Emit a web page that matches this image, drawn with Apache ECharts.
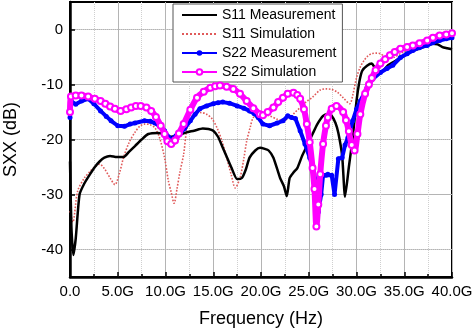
<!DOCTYPE html>
<html>
<head>
<meta charset="utf-8">
<script src="https://cdn.jsdelivr.net/npm/echarts@6/dist/echarts.min.js"></script>
<style>
html,body{margin:0;padding:0;background:#fff;}
#chart{width:474px;height:332px;}
</style>
</head>
<body>
<div id="chart"></div>
<script>
// Frequency in GHz, values in dB
var seriesNames = ['S11 Measurement', 'S11 Simulation', 'S22 Measurement', 'S22 Simulation'];
var xTicks = [0, 5, 10, 15, 20, 25, 30, 35, 40];
var yTicks = [-40, -30, -20, -10, 0];

var s11Meas = [[0.0,-24],[0.15,-36],[0.35,-41],[0.6,-38],[1.0,-30],[1.5,-28],[2.1,-26.3],[2.6,-25],[3.1,-24],[3.6,-23.3],[4.2,-23],[4.9,-23.2],[5.6,-23.2],[6.2,-22.2],[6.8,-21.2],[7.5,-20],[8.2,-19],[9.2,-18.8],[9.8,-19],[10.5,-19.5],[11.3,-19.2],[12.2,-18.7],[13.0,-18.4],[13.9,-18],[14.5,-18.1],[15.0,-18.4],[15.5,-19.5],[16.0,-21.5],[16.5,-23.5],[16.9,-25.1],[17.5,-27.2],[18.0,-27],[18.4,-25.5],[18.8,-23.3],[19.4,-22],[19.9,-21.5],[20.4,-21.7],[20.8,-22],[21.3,-23.3],[22.0,-27],[22.4,-28.5],[22.7,-30.3],[23.0,-27],[23.4,-26],[23.8,-25.2],[24.3,-23],[24.8,-21.2],[25.4,-19],[25.9,-17.2],[26.5,-15.7],[27.0,-15.4],[27.4,-15.7],[27.8,-17],[28.1,-18.8],[28.5,-23],[28.8,-30.4],[29.2,-25],[29.6,-19.7],[30.0,-13],[30.3,-9.5],[30.6,-7.5],[31.1,-6.6],[31.6,-6.2],[31.9,-6.9],[32.3,-7.8],[32.8,-7.5],[33.3,-6.5],[34.0,-5.8],[34.6,-5.1],[35.5,-4.2],[36.5,-3.5],[37.3,-3],[38.0,-2.6],[38.5,-2.7],[39.0,-3.2],[39.5,-3.4],[40.0,-3.6]];

var s11Sim = [[0.0,-33],[0.3,-35],[0.8,-29.4],[1.5,-27],[2.1,-25.8],[2.6,-25],[3.1,-24.5],[3.6,-25.3],[4.2,-27],[4.7,-28.2],[5.2,-26],[5.6,-23.3],[6.2,-20.5],[6.8,-18.7],[7.3,-17.6],[7.8,-17.2],[8.4,-17.3],[8.9,-17.9],[9.4,-19.8],[9.9,-23.3],[10.3,-27.5],[10.6,-29.6],[10.9,-31.6],[11.2,-29],[11.5,-26],[11.9,-22.7],[12.2,-18.5],[12.6,-16.2],[13.0,-15.4],[13.7,-15.1],[14.3,-15.4],[14.9,-16.3],[15.4,-17.9],[15.9,-20.2],[16.4,-23.3],[16.9,-26.5],[17.3,-28.8],[17.8,-27],[18.2,-23.5],[18.5,-20.3],[18.9,-17.6],[19.2,-16],[19.9,-15.3],[20.5,-15.5],[20.9,-15.7],[21.7,-16.3],[22.4,-16.5],[23.0,-16],[23.6,-15],[24.1,-14.2],[24.7,-13.2],[25.4,-12.3],[26.2,-11],[26.8,-10.8],[27.4,-10.9],[28.0,-11.4],[28.6,-12.4],[29.3,-13.5],[29.6,-12],[30.0,-8.8],[30.4,-6.8],[30.8,-5.6],[31.2,-4.8],[31.6,-4.4],[32.1,-4.3],[32.5,-4.4],[33.0,-5],[33.5,-5.2],[34.0,-5],[34.8,-4.2],[35.6,-3.6],[36.5,-3.1],[37.4,-2.6],[38.3,-2.1],[39.2,-1.7],[40.0,-1.4]];

var s22Meas = [[0.0,-16],[0.1,-13],[0.6,-13.6],[1.2,-13],[1.9,-12.6],[2.5,-13.5],[3.2,-14.8],[3.8,-15.8],[4.3,-16.6],[5.0,-17.5],[5.7,-17.6],[6.3,-17.2],[6.8,-17],[7.8,-16.6],[8.4,-16.7],[8.9,-17],[9.4,-17.6],[9.9,-18.4],[10.3,-19.5],[10.6,-20],[11.1,-19.3],[11.5,-19],[12.0,-18],[12.6,-16.6],[13.1,-15.4],[13.6,-14.4],[14.3,-13.9],[15.0,-13.5],[15.5,-13.3],[16.0,-13.2],[16.7,-13.4],[17.5,-13.9],[18.2,-14.3],[18.8,-14.8],[19.3,-15.3],[19.7,-16],[20.2,-17.2],[20.9,-17.5],[21.7,-17],[22.3,-16.6],[22.8,-15.7],[23.2,-16],[23.6,-16.2],[24.1,-18.4],[24.6,-20.8],[25.1,-23.3],[25.5,-25.5],[25.7,-27.5],[26.0,-33.2],[26.3,-30],[26.5,-26.5],[26.8,-26.5],[27.0,-26.3],[27.4,-26.5],[27.7,-30],[28.1,-23.5],[28.5,-23.3],[28.8,-21],[29.1,-19.7],[29.6,-16.6],[30.0,-14.5],[30.4,-13],[31.1,-10.6],[31.7,-9],[32.5,-7.8],[33.2,-7.1],[33.8,-6.5],[34.6,-5.1],[35.3,-4.4],[35.9,-3.8],[36.6,-3.3],[37.4,-2.9],[38.0,-2.4],[38.7,-2],[39.4,-1.7],[40.0,-1.5]];

var s22Sim = [[0.0,-15],[0.1,-12.2],[0.6,-12],[1.2,-12],[1.9,-12.2],[2.6,-12.6],[3.2,-13],[3.7,-13.5],[4.2,-14],[4.7,-14.4],[5.3,-14.8],[5.9,-14.5],[6.4,-14.2],[6.9,-13.9],[7.4,-13.9],[8.0,-14.2],[8.5,-14.8],[9.0,-15.9],[9.5,-17.5],[9.9,-19],[10.2,-20.3],[10.6,-20.8],[11.0,-20.2],[11.4,-18.9],[11.9,-17.2],[12.6,-14.6],[13.3,-12.4],[14.0,-11.3],[14.7,-10.6],[15.2,-10.3],[15.7,-10.2],[16.4,-10.4],[17.1,-10.8],[17.8,-11.7],[18.5,-13],[19.2,-14.3],[19.9,-15.4],[20.2,-15.6],[20.7,-15],[21.3,-14.2],[21.8,-13.2],[22.3,-12.4],[22.8,-11.7],[23.4,-11.5],[23.8,-11.9],[24.1,-12.6],[24.5,-14.5],[24.8,-17.2],[25.1,-20.5],[25.4,-25.2],[25.6,-29],[25.8,-35.8],[26.0,-31.8],[26.2,-26.3],[26.5,-20.8],[26.8,-17.5],[27.0,-16],[27.4,-14.4],[27.9,-13.9],[28.6,-15],[28.9,-16.5],[29.2,-18.5],[29.5,-21],[29.8,-22],[30.1,-19],[30.4,-15.4],[30.9,-11.7],[31.3,-10],[31.6,-8.8],[32.0,-7.4],[32.5,-6.2],[33.0,-5.4],[33.5,-4.7],[34.0,-4.1],[34.6,-3.5],[35.3,-3.2],[35.9,-2.9],[36.6,-2.5],[37.4,-2],[38.0,-1.5],[38.7,-1.1],[39.4,-0.9],[40.0,-0.7]];

var FONT = 'Liberation Sans, Arial, sans-serif';
var chart = echarts.init(document.getElementById('chart'), null, {renderer: 'canvas'});
chart.setOption({
  animation: false,
  backgroundColor: '#fff',
  textStyle: {fontFamily: FONT, color: '#000'},
  grid: {left: 70, right: 22, top: 2, bottom: 55, containLabel: false, outerBoundsMode: 'none',
    show: true, borderColor: '#000', borderWidth: 2, backgroundColor: 'transparent'},
  legend: {
    orient: 'vertical', left: 173, top: 4,
    itemWidth: 35, itemHeight: 7, itemGap: 5,
    padding: [4, 6, 3, 8],
    borderColor: '#555', borderWidth: 1, backgroundColor: '#fff',
    textStyle: {fontSize: 14, color: '#000', fontFamily: FONT},
    lineStyle: {width: 2},
    data: [
      {name: seriesNames[0], itemStyle: {opacity: 0}},
      {name: seriesNames[1], itemStyle: {opacity: 0}},
      {name: seriesNames[2]},
      {name: seriesNames[3]}
    ]
  },
  xAxis: {
    type: 'value', min: 0, max: 40, interval: 5,
    name: 'Frequency (Hz)', nameLocation: 'middle', nameGap: 33,
    nameTextStyle: {fontSize: 18, color: '#000', fontFamily: FONT},
    axisLine: {show: true, onZero: false, lineStyle: {color: '#000', width: 2.5}},
    axisTick: {show: true, inside: true, length: 5, lineStyle: {color: '#000', width: 1.5}},
    minorTick: {show: true, splitNumber: 2, length: 3, lineStyle: {color: '#000', width: 1.5}},
    axisLabel: {fontSize: 15, color: '#000', margin: 7, fontFamily: FONT,
      formatter: function (v) { return xTicks.indexOf(v) < 0 ? '' : (v === 0 ? '0.0' : v.toFixed(1) + 'G'); }},
    splitLine: {show: true, lineStyle: {color: '#b4b4b4', width: 1}},
    minorSplitLine: {show: true, lineStyle: {color: '#cfcfcf', width: 1, type: 'dotted'}}
  },
  yAxis: [{
    type: 'value', min: -45, max: 5, interval: 5,
    name: 'SXX (dB)', nameLocation: 'middle', nameGap: 50,
    nameTextStyle: {fontSize: 18, color: '#000', fontFamily: FONT},
    axisLine: {show: true, onZero: false, lineStyle: {color: '#000', width: 2.5}},
    axisTick: {show: false},
    axisLabel: {fontSize: 15, color: '#000', margin: 7, fontFamily: FONT,
      formatter: function (v) { return yTicks.indexOf(v) < 0 ? '' : String(v); }},
    splitLine: {show: true, lineStyle: {color: ['rgba(0,0,0,0)', '#b4b4b4'], width: 1}}
  }, {
    type: 'value', min: -45, max: 5, interval: 5, position: 'left',
    axisLine: {show: false}, axisLabel: {show: false},
    axisTick: {show: true, inside: true, length: 5, customValues: yTicks, lineStyle: {color: '#000', width: 1.5}},
    splitLine: {show: true, lineStyle: {color: ['#cfcfcf', 'rgba(0,0,0,0)'], width: 1, type: 'dotted'}}
  }],
  series: [{
    name: 'S11 Simulation', type: 'line', data: s11Sim, z: 2,
    showSymbol: false, symbol: 'none', smooth: 0.3,
    lineStyle: {color: '#e05a5a', width: 1.6, type: 'dotted'},
    itemStyle: {color: '#e05a5a'}
  }, {
    name: 'S11 Measurement', type: 'line', data: s11Meas, z: 3,
    showSymbol: false, symbol: 'none', smooth: 0.2,
    lineStyle: {color: '#000', width: 2.5},
    itemStyle: {color: '#000'}
  }, {
    name: 'S22 Measurement', type: 'line', data: s22Meas, z: 4,
    symbol: 'circle', symbolSize: 5, showSymbol: true,
    lineStyle: {color: '#0000ff', width: 4},
    itemStyle: {color: '#0000ff'}
  }, {
    name: 'S22 Simulation', type: 'line', data: s22Sim, z: 5,
    symbol: 'emptyCircle', symbolSize: 6, showSymbol: true, smooth: 0.3,
    lineStyle: {color: '#ff00ff', width: 6},
    itemStyle: {color: '#ff00ff', borderColor: '#ff00ff', borderWidth: 1.5}
  }]
});
</script>
</body>
</html>
